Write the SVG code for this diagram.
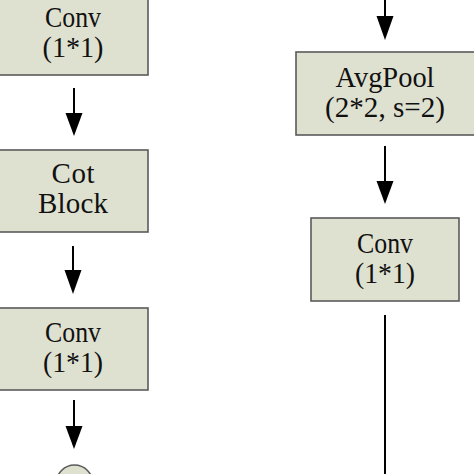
<svg xmlns="http://www.w3.org/2000/svg" width="474" height="474" viewBox="0 0 474 474">
<style>
.box{fill:#dfe1d0;stroke:#5a5a5a;stroke-width:1.6}
.t{font-family:"Liberation Serif",serif;font-size:29px;fill:#111;text-anchor:middle}
.ln{stroke:#000;stroke-width:2;fill:none}
.ah{fill:#000}
</style>
<rect width="474" height="474" fill="#fff"/>
<g id="connectors">
<line class="ln" x1="74" y1="88" x2="74" y2="116"/><polygon class="ah" points="65.5,113 82.5,113 74,136"/>
<line class="ln" x1="73" y1="246" x2="73" y2="272"/><polygon class="ah" points="64.5,270 81.5,270 73,294"/>
<line class="ln" x1="74" y1="400" x2="74" y2="428"/><polygon class="ah" points="65.5,426 82.5,426 74,449"/>
<line class="ln" x1="385" y1="0" x2="385" y2="18"/><polygon class="ah" points="376.5,16 393.5,16 385,40"/>
<line class="ln" x1="385" y1="146" x2="385" y2="184"/><polygon class="ah" points="376.5,181 393.5,181 385,204"/>
<line class="ln" x1="385" y1="315" x2="385" y2="474"/>
</g>
<g id="conv1">
<rect class="box" x="-2" y="-10" width="150" height="85"/>
<text class="t" x="73" y="27" textLength="56" lengthAdjust="spacingAndGlyphs">Conv</text>
<text class="t" x="73" y="57" textLength="61" lengthAdjust="spacingAndGlyphs">(1*1)</text>
</g>
<g id="cotblock">
<rect class="box" x="-2" y="150" width="150" height="82"/>
<text class="t" x="73" y="183" textLength="43" lengthAdjust="spacing">Cot</text>
<text class="t" x="73" y="213" textLength="70" lengthAdjust="spacing">Block</text>
</g>
<g id="conv2">
<rect class="box" x="-2" y="308" width="150" height="82"/>
<text class="t" x="73" y="342" textLength="56" lengthAdjust="spacingAndGlyphs">Conv</text>
<text class="t" x="73" y="372" textLength="60" lengthAdjust="spacingAndGlyphs">(1*1)</text>
</g>
<g id="sum">
<circle class="box" cx="74.5" cy="483" r="18"/>
</g>
<g id="avgpool">
<rect class="box" x="296" y="52" width="180" height="83"/>
<text class="t" x="385" y="87" textLength="99" lengthAdjust="spacingAndGlyphs">AvgPool</text>
<text class="t" x="385" y="117" textLength="120" lengthAdjust="spacingAndGlyphs">(2*2, s=2)</text>
</g>
<g id="conv3">
<rect class="box" x="311" y="218" width="148" height="83"/>
<text class="t" x="385" y="253" textLength="56" lengthAdjust="spacingAndGlyphs">Conv</text>
<text class="t" x="385" y="283" textLength="60" lengthAdjust="spacingAndGlyphs">(1*1)</text>
</g>
</svg>
